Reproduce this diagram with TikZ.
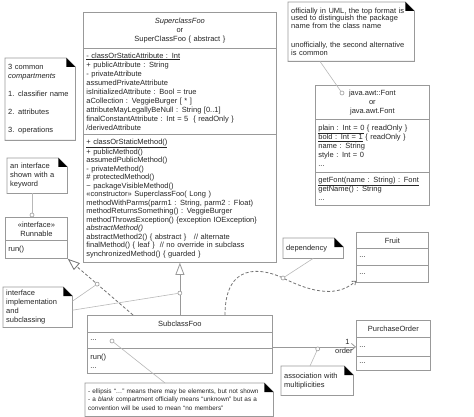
\documentclass[tikz,border=0pt]{standalone}
\usepackage{fontspec}
\setmainfont{Liberation Sans}
\usetikzlibrary{arrows.meta}

\definecolor{umlline}{gray}{0.6}
\definecolor{linkline}{gray}{0.72}
\definecolor{umltext}{gray}{0.15}
\newcommand{\umlsize}{\fontsize{7.5}{9}\selectfont}

\tikzset{
	umlbox/.style={draw=umlline, line width=0.8pt, fill=white, anchor=north west, inner xsep=3pt, inner ysep=0pt, font=\umlsize, text=umltext},
	umlhead/.style={umlbox, align=center, text width=#1},
	umlbody/.style={umlbox, align=left, text width=#1},
	umlnote/.style={fill=white, anchor=north west, inner xsep=3pt, inner ysep=0pt, align=left, font=\umlsize, text=umltext, text width=#1},
	noteline/.style={draw=umlline, line width=0.8pt},
	pinhead/.style={circle, draw=umlline, line width=0.6pt, fill=white, inner sep=0pt, minimum size=4pt},
	notelink/.style={draw=linkline, line width=0.6pt},
	generalize/.style={draw=umlline, line width=0.8pt, -{Triangle[open, length=12pt, width=9pt, fill=white]}},
	realize/.style={generalize, draw=black!55, dash pattern=on 3pt off 2pt},
	depend/.style={draw=black!55, line width=0.8pt, dash pattern=on 3pt off 2pt, -{Straight Barb[length=3pt, width=5pt]}},
	assoc/.style={draw=umlline, line width=0.8pt, -{Straight Barb[length=4pt, width=7pt]}},
	rolelabel/.style={font=\umlsize, text=umltext, inner sep=1pt}
}

\begin{document}
\begin{tikzpicture}[x=1pt,y=-1pt]
	\useasboundingbox (0,0) rectangle (474,417);

	\node [umlhead=187pt, minimum height=36pt] (super) at (83,12) {\textit{SuperclassFoo}\\or\\SuperClassFoo \{ abstract \}};
	\node [umlbody=187pt, minimum height=86pt] (superattr) at (83,48) {\underline{- classOrStaticAttribute : Int}\\+ publicAttribute : String\\- privateAttribute\\assumedPrivateAttribute\\isInitializedAttribute : Bool = true\\aCollection : VeggieBurger [ * ]\\attributeMayLegallyBeNull : String [0..1]\\finalConstantAttribute : Int = 5 \ \{ readOnly \}\\/derivedAttribute};
	\node [umlbody=187pt, minimum height=128pt, font=\fontsize{7.5}{8.5}\selectfont] (superops) at (83,134) {\underline{+ classOrStaticMethod()}\\+ publicMethod()\\assumedPublicMethod()\\- privateMethod()\\\# protectedMethod()\\\textasciitilde\ packageVisibleMethod()\\«constructor» SuperclassFoo( Long )\\methodWithParms(parm1 : String, parm2 : Float)\\methodReturnsSomething() : VeggieBurger\\methodThrowsException() \{exception IOException\}\\\textit{abstractMethod()}\\abstractMethod2() \{ abstract \} \ \ // alternate\\finalMethod() \{ leaf \} \ // no override in subclass\\synchronizedMethod() \{ guarded \}};

	\node [umlhead=108pt, minimum height=34pt] (font) at (315,85) {java.awt::Font\\or\\java.awt.Font};
	\node [umlbody=108pt, minimum height=53pt] (fontattr) at (315,119) {\underline{plain : Int = 0} \{ readOnly \}\\\underline{bold : Int = 1} \{ readOnly \}\\name : String\\style : Int = 0\\...};
	\node [umlbody=108pt, minimum height=33pt] (fontops) at (315,172) {\underline{getFont(name : String) : Font}\\getName() : String\\...};

	\node [umlhead=56pt, minimum height=23pt] (runnable) at (5,217) {«interface»\\Runnable};
	\node [umlbody=56pt, minimum height=18pt] (runnableops) at (5,240) {run()};

	\node [umlhead=179pt, minimum height=17pt] (sub) at (87,315) {SubclassFoo};
	\node [umlbody=179pt, minimum height=16pt] (subattr) at (87,332) {...};
	\node [umlbody=179pt, minimum height=25pt] (subops) at (87,348) {run()\\...};

	\node [umlhead=66pt, minimum height=16pt] (fruit) at (356,232) {Fruit};
	\node [umlbody=66pt, minimum height=17pt] (fruitattr) at (356,248) {...};
	\node [umlbody=66pt, minimum height=17pt] (fruitops) at (356,265) {...};

	\node [umlhead=68pt, minimum height=17pt] (order) at (356,320) {PurchaseOrder};
	\node [umlbody=68pt, minimum height=19pt] (orderattr) at (356,337) {...};
	\node [umlbody=68pt, minimum height=14pt] (orderops) at (356,356) {...};

	% notes
	\node [umlnote=120pt, minimum height=59pt, font=\fontsize{7.5}{7.6}\selectfont] (notemodel) at (288,2) {officially in UML, the top format is\\used to distinguish the package\\name from the class name\\[12pt]unofficially, the second alternative\\is common};
	\node [umlnote=64pt, minimum height=82pt] (notecompart) at (5,58) {3 common\\\textit{compartments}\\[9pt]1. classifier name\\[9pt]2. attributes\\[9pt]3. operations};
	\node [umlnote=54pt, minimum height=35pt] (notekw) at (7,158) {an interface\\shown with a\\keyword};
	\node [umlnote=63pt, minimum height=40pt] (noteimpl) at (3,287) {interface\\implementation\\and\\subclassing};
	\node [umlnote=54pt, minimum height=20pt] (notedep) at (283,238) {dependency};
	\node [umlnote=66pt, minimum height=29pt] (noteassoc) at (281,366) {association with\\multiplicities};
	\node [umlnote=182pt, minimum height=33pt, font=\fontsize{6.4}{8.5}\selectfont] (noteellipsis) at (85,383) {- ellipsis “…” means there may be elements, but not shown\\- a \textit{blank} compartment officially means “unknown” but as a\\convention will be used to mean “no members”};

	\foreach \n in {notemodel,notecompart,notekw,noteimpl,notedep,noteassoc,noteellipsis} {
		\draw [noteline] (\n.north west) -- ([xshift=-9pt]\n.north east) -- ([yshift=-9pt]\n.north east) -- (\n.south east) -- (\n.south west) -- cycle;
		\fill [black] ([xshift=-9pt]\n.north east) -- ([xshift=-9pt,yshift=-9pt]\n.north east) -- ([yshift=-9pt]\n.north east) -- cycle;
	}

	% relations
	\draw [generalize] (sub.north) -- coordinate[pos=0.42] (genmid) (superops.south);
	\draw [realize] ([xshift=46pt]sub.north west) -- coordinate[pos=0.55] (realmid) (runnableops.south east);
	\draw [assoc] (subattr.east |- orderattr.west) -- coordinate[pos=0.54] (assocmid) (orderattr.west)
		node [rolelabel, anchor=south east, xshift=-5pt, yshift=1pt] {1}
		node [rolelabel, anchor=north east, xshift=-2pt] {order};
	\coordinate (depmid) at (283,278);
	\draw [depend] ([xshift=138pt]sub.north west) .. controls (225,262) and (262,268) .. (depmid) .. controls (305,289) and (335,300) .. ([yshift=2pt]fruitops.south west);

	% note anchors
	\node [pinhead] (pmodel) at (342,93) {};
	\node [pinhead] (pkw) at (32,215) {};
	\node [pinhead] (pell) at (112,341) {};
	\node [pinhead] (pgen) at (genmid) {};
	\node [pinhead] (preal) at (realmid) {};
	\node [pinhead] (passoc) at ([yshift=-2pt]assocmid) {};
	\node [pinhead] (pdep) at (depmid) {};

	\draw [notelink] ([xshift=32pt]notemodel.south west) -- (pmodel);
	\draw [notelink] (notekw.south -| pkw) -- (pkw);
	\draw [notelink] ([yshift=6pt]noteimpl.east) -- (preal);
	\draw [notelink] ([yshift=-3pt]noteimpl.east) -- (pgen);
	\draw [notelink] ([xshift=80pt]noteellipsis.north west) -- (pell);
	\draw [notelink] ([xshift=29pt]noteassoc.north west) -- (passoc);
	\draw [notelink] (notedep.south) -- (pdep);
\end{tikzpicture}
\end{document}
